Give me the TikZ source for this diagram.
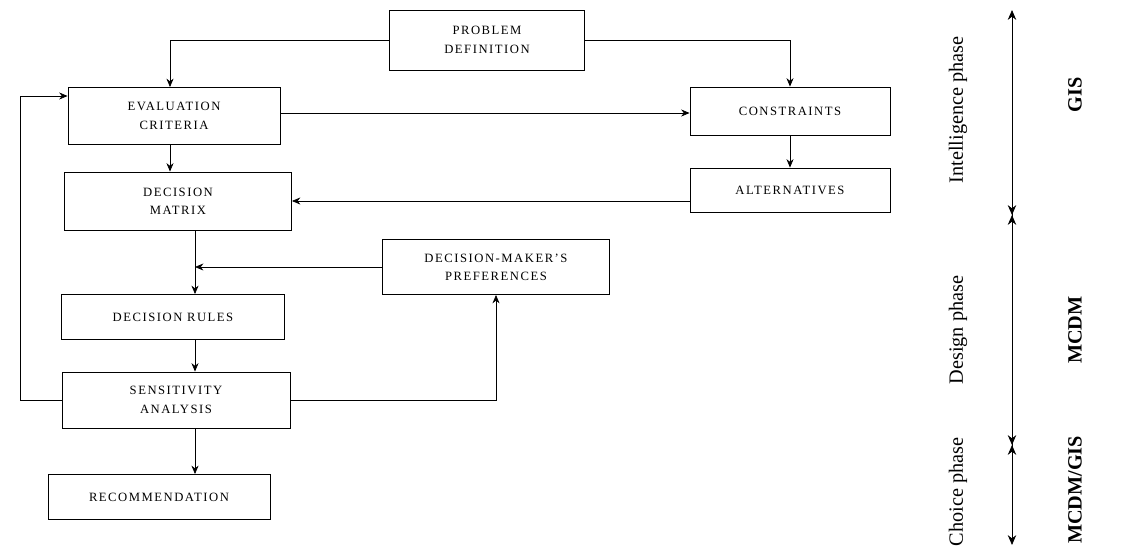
\documentclass[tikz,border=0pt]{standalone}
\usepackage{fontspec}
\setmainfont{Liberation Serif}
\usetikzlibrary{arrows.meta}
\tikzset{
  box/.style={draw,line width=.6pt,align=center,inner sep=1pt,font=\small\addfontfeature{LetterSpace=12}},
  flow/.style={line width=.5pt,-{Stealth[length=6pt,width=5pt]}},
  phase/.style={rotate=90,font=\Large},
}
\begin{document}
\begin{tikzpicture}[x=0.025cm,y=-0.025cm]
        \useasboundingbox (0,0) rectangle (1127,559);

        % boxes
        \node [box,minimum width=195*0.025cm,minimum height=60*0.025cm] (prob) at (487,40) {PROBLEM\\[2pt]DEFINITION};
        \node [box,minimum width=212*0.025cm,minimum height=57*0.025cm] (crit) at (174,116) {EVALUATION\\[2pt]CRITERIA};
        \node [box,minimum width=200*0.025cm,minimum height=48*0.025cm] (cons) at (790,111) {CONSTRAINTS};
        \node [box,minimum width=227*0.025cm,minimum height=58*0.025cm] (matrix) at (178,201) {DECISION\\[2pt]MATRIX};
        \node [box,minimum width=200*0.025cm,minimum height=44*0.025cm] (alt) at (790,190) {ALTERNATIVES};
        \node [box,minimum width=227*0.025cm,minimum height=55*0.025cm] (pref) at (496,267) {DECISION-MAKER'S\\[2pt]PREFERENCES};
        \node [box,minimum width=223*0.025cm,minimum height=45*0.025cm] (rules) at (173,317) {DECISION RULES};
        \node [box,minimum width=228*0.025cm,minimum height=56*0.025cm] (sens) at (176,400) {SENSITIVITY\\[2pt]ANALYSIS};
        \node [box,minimum width=222*0.025cm,minimum height=45*0.025cm] (rec) at (159,497) {RECOMMENDATION};

        % connectors
        \draw [flow] (prob.west) -| (crit.north -| 170,0);
        \draw [flow] (prob.east) -| (cons.north);
        \draw [flow] (crit.east |- 0,113) -- (cons.west |- 0,113);
        \draw [flow] (crit.south -| 170,0) -- (matrix.north -| 170,0);
        \draw [flow] (cons.south) -- (alt.north);
        \draw [flow] (alt.west |- 0,201) -- (matrix.east);
        \draw [flow] (matrix.south -| 195,0) -- (rules.north -| 195,0);
        \draw [flow] (pref.west) -- (195,267);
        \draw [flow] (rules.south -| 195,0) -- (sens.north -| 195,0);
        \draw [flow] (sens.west) -- (20,400) -- (20,96) -- (crit.west |- 0,96);
        \draw [flow] (sens.east) -| (pref.south);
        \draw [flow] (sens.south -| 195,0) -- (rec.north -| 195,0);

        % phases
        \draw [line width=.6pt,{Stealth[length=7pt,width=6pt]}-{Stealth[length=7pt,width=6pt]}] (1012,10) -- (1012,545);
        \draw [line width=.6pt,-{Stealth[length=7pt,width=6pt]}] (1012,160) -- (1012,215);
        \draw [line width=.6pt,-{Stealth[length=7pt,width=6pt]}] (1012,270) -- (1012,215);
        \draw [line width=.6pt,-{Stealth[length=7pt,width=6pt]}] (1012,400) -- (1012,445);
        \draw [line width=.6pt,-{Stealth[length=7pt,width=6pt]}] (1012,490) -- (1012,445);
        \node [phase] (intel) at (958,110) {Intelligence phase};
        \node [phase] (design) at (958,330) {Design phase};
        \node [phase] (choice) at (958,492) {Choice phase};
        \node [phase,font=\Large\bfseries] (gis) at (1075,95) {GIS};
        \node [phase,font=\Large\bfseries] (mcdm) at (1075,330) {MCDM};
        \node [phase,font=\Large\bfseries] (mcdmgis) at (1075,490) {MCDM/GIS};

\end{tikzpicture}
\end{document}
